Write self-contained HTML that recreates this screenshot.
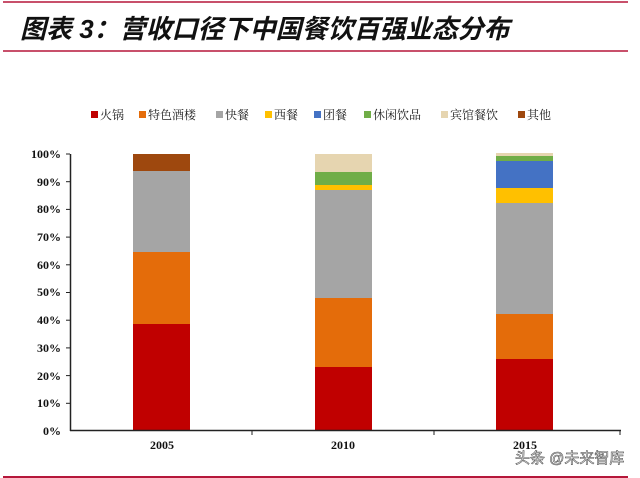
<!DOCTYPE html>
<html><head><meta charset="utf-8"><style>
html,body{margin:0;padding:0;background:#fff;}
body{width:640px;height:478px;overflow:hidden;position:relative;}
</style></head><body>
<svg width="640" height="478" xmlns="http://www.w3.org/2000/svg" style="position:absolute;left:0;top:0">
<line x1="3" y1="2" x2="628" y2="2" stroke="#b5173a" stroke-width="1.5"/>
<line x1="3" y1="51" x2="628" y2="51" stroke="#b5173a" stroke-width="1.5"/>
<line x1="3" y1="477" x2="628" y2="477" stroke="#b5173a" stroke-width="2"/>
<text x="20" y="38" font-family="Liberation Sans, Noto Sans CJK SC, sans-serif" font-size="26" font-weight="bold" font-style="italic" fill="#111">图表 3：营收口径下中国餐饮百强业态分布</text>
<g font-family="Liberation Serif, Noto Serif CJK SC, serif" font-size="12" fill="#222">
<rect x="91" y="111" width="7" height="7" fill="#c00000"/><text x="100" y="119">火锅</text>
<rect x="139" y="111" width="7" height="7" fill="#e46c0a"/><text x="148" y="119">特色酒楼</text>
<rect x="216" y="111" width="7" height="7" fill="#a5a5a5"/><text x="225" y="119">快餐</text>
<rect x="265" y="111" width="7" height="7" fill="#ffc000"/><text x="274" y="119">西餐</text>
<rect x="314" y="111" width="7" height="7" fill="#4472c4"/><text x="323" y="119">团餐</text>
<rect x="364" y="111" width="7" height="7" fill="#70ad47"/><text x="373" y="119">休闲饮品</text>
<rect x="441" y="111" width="7" height="7" fill="#e6d5b0"/><text x="450" y="119">宾馆餐饮</text>
<rect x="518" y="111" width="7" height="7" fill="#9e480e"/><text x="527" y="119">其他</text>
</g>
<!-- bars 2005 -->
<rect x="133" y="324" width="57" height="107" fill="#c00000"/>
<rect x="133" y="252" width="57" height="72" fill="#e46c0a"/>
<rect x="133" y="171" width="57" height="81" fill="#a5a5a5"/>
<rect x="133" y="154" width="57" height="17" fill="#9e480e"/>
<!-- 2010 -->
<rect x="315" y="367" width="57" height="64" fill="#c00000"/>
<rect x="315" y="298" width="57" height="69" fill="#e46c0a"/>
<rect x="315" y="190" width="57" height="108" fill="#a5a5a5"/>
<rect x="315" y="185" width="57" height="5" fill="#ffc000"/>
<rect x="315" y="172" width="57" height="13" fill="#70ad47"/>
<rect x="315" y="154" width="57" height="18" fill="#e6d5b0"/>
<!-- 2015 -->
<rect x="496" y="359" width="57" height="72" fill="#c00000"/>
<rect x="496" y="314" width="57" height="45" fill="#e46c0a"/>
<rect x="496" y="203" width="57" height="111" fill="#a5a5a5"/>
<rect x="496" y="188" width="57" height="15" fill="#ffc000"/>
<rect x="496" y="161" width="57" height="27" fill="#4472c4"/>
<rect x="496" y="156" width="57" height="5" fill="#70ad47"/>
<rect x="496" y="153" width="57" height="3" fill="#e6d5b0"/>
<!-- axes -->
<line x1="70.5" y1="154" x2="70.5" y2="431" stroke="#222" stroke-width="1.5"/>
<line x1="70" y1="430.5" x2="621" y2="430.5" stroke="#222" stroke-width="1.5"/>
<g stroke="#222" stroke-width="1">
<line x1="66" y1="154" x2="70" y2="154"/><line x1="66" y1="181.7" x2="70" y2="181.7"/><line x1="66" y1="209.4" x2="70" y2="209.4"/><line x1="66" y1="237.1" x2="70" y2="237.1"/><line x1="66" y1="264.8" x2="70" y2="264.8"/><line x1="66" y1="292.5" x2="70" y2="292.5"/><line x1="66" y1="320.2" x2="70" y2="320.2"/><line x1="66" y1="347.9" x2="70" y2="347.9"/><line x1="66" y1="375.6" x2="70" y2="375.6"/><line x1="66" y1="403.3" x2="70" y2="403.3"/>
<line x1="252" y1="430" x2="252" y2="435"/><line x1="434" y1="430" x2="434" y2="435"/><line x1="620" y1="430" x2="620" y2="435"/>
</g>
<g font-family="Liberation Serif, serif" font-size="12" font-weight="bold" fill="#111" text-anchor="end">
<text x="61" y="158">100%</text><text x="61" y="186">90%</text><text x="61" y="213">80%</text><text x="61" y="241">70%</text><text x="61" y="269">60%</text><text x="61" y="296">50%</text><text x="61" y="324">40%</text><text x="61" y="352">30%</text><text x="61" y="380">20%</text><text x="61" y="407">10%</text><text x="61" y="435">0%</text>
</g>
<g font-family="Liberation Serif, serif" font-size="12" font-weight="bold" fill="#111" text-anchor="middle">
<text x="162" y="449">2005</text><text x="343" y="449">2010</text><text x="525" y="449">2015</text>
</g>
<text x="515" y="463" font-family="Liberation Sans, Noto Sans CJK SC, sans-serif" font-size="15" fill="#fff" stroke="#555" stroke-width="0.6">头条 @未来智库</text>
</svg>
</body></html>
